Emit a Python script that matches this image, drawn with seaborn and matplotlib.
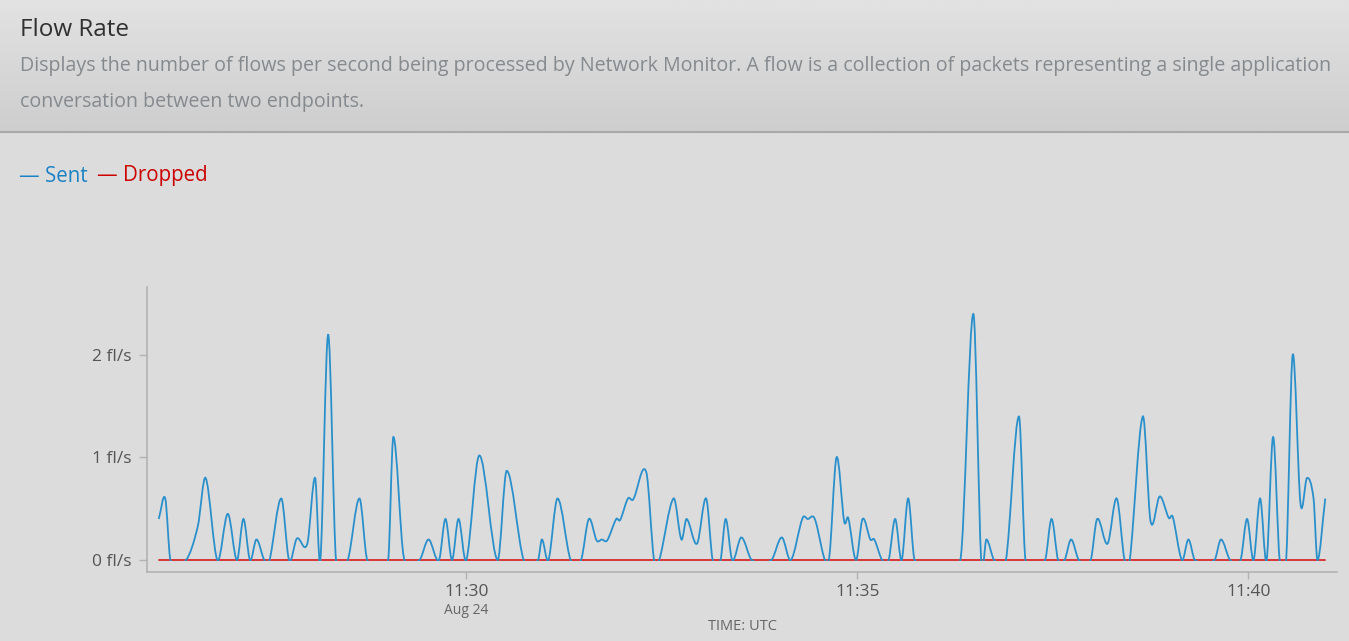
import numpy as np
import pandas as pd
import matplotlib
matplotlib.use("Agg")
import matplotlib.pyplot as plt
import matplotlib.dates as mdates
from matplotlib.path import Path
from matplotlib.patches import PathPatch, Rectangle
from matplotlib.lines import Line2D
from matplotlib.colors import LinearSegmentedColormap
import seaborn as sns

DAY = "2020-08-24 "

# sample times of the "Sent" series (UTC) and flows per second
sent_times = [
    "11:26:04", "11:26:09", "11:26:13", "11:26:25", "11:26:34", "11:26:40", "11:26:49", "11:26:57",
    "11:27:04", "11:27:09", "11:27:14", "11:27:19", "11:27:25", "11:27:29", "11:27:38", "11:27:44",
    "11:27:50", "11:27:58", "11:28:04", "11:28:08", "11:28:14", "11:28:20", "11:28:29", "11:28:38",
    "11:28:44", "11:29:00", "11:29:04", "11:29:12", "11:29:24", "11:29:31", "11:29:39", "11:29:44",
    "11:29:49", "11:29:54", "11:30:00", "11:30:10", "11:30:24", "11:30:31", "11:30:44", "11:30:55",
    "11:30:58", "11:31:03", "11:31:10", "11:31:20", "11:31:28", "11:31:34", "11:31:40", "11:31:44",
    "11:31:48", "11:31:55", "11:31:58", "11:32:04", "11:32:08", "11:32:18", "11:32:24", "11:32:28",
    "11:32:39", "11:32:45", "11:32:49", "11:32:57", "11:33:04", "11:33:09", "11:33:15", "11:33:19",
    "11:33:24", "11:33:31", "11:33:39", "11:33:54", "11:34:02", "11:34:09", "11:34:18", "11:34:22",
    "11:34:27", "11:34:38", "11:34:44", "11:34:50", "11:34:53", "11:34:59", "11:35:04", "11:35:10",
    "11:35:13", "11:35:19", "11:35:24", "11:35:29", "11:35:34", "11:35:39", "11:35:44", "11:36:19",
    "11:36:29", "11:36:35", "11:36:39", "11:36:45", "11:36:54", "11:37:04", "11:37:09", "11:37:24",
    "11:37:29", "11:37:34", "11:37:39", "11:37:44", "11:37:50", "11:37:59", "11:38:04", "11:38:12",
    "11:38:19", "11:38:25", "11:38:29", "11:38:39", "11:38:45", "11:38:52", "11:38:59", "11:39:02",
    "11:39:09", "11:39:14", "11:39:19", "11:39:34", "11:39:39", "11:39:46", "11:39:54", "11:39:59",
    "11:40:04", "11:40:09", "11:40:14", "11:40:19", "11:40:24", "11:40:29", "11:40:34", "11:40:40",
    "11:40:45", "11:40:50", "11:40:53", "11:40:59",
]
sent_values = [
    0.40, 0.60, 0.0, 0.0, 0.33, 0.80, 0.0, 0.45,
    0.0, 0.40, 0.0, 0.20, 0.0, 0.0, 0.60, 0.0,
    0.21, 0.16, 0.80, 0.0, 2.20, 0.0, 0.0, 0.60,
    0.0, 0.0, 1.20, 0.03, 0.0, 0.20, 0.0, 0.40,
    0.0, 0.40, 0.0, 1.02, 0.0, 0.87, 0.0, 0.0,
    0.20, 0.0, 0.60, 0.0, 0.0, 0.40, 0.19, 0.20,
    0.19, 0.40, 0.39, 0.60, 0.59, 0.86, 0.0, 0.0,
    0.60, 0.20, 0.40, 0.16, 0.60, 0.0, 0.0, 0.40,
    0.0, 0.22, 0.0, 0.0, 0.22, 0.0, 0.41, 0.40,
    0.41, 0.0, 1.00, 0.37, 0.41, 0.0, 0.40, 0.20,
    0.20, 0.0, 0.0, 0.40, 0.0, 0.60, 0.0, 0.0,
    2.40, 0.0, 0.20, 0.0, 0.0, 1.40, 0.0, 0.0,
    0.40, 0.0, 0.0, 0.20, 0.0, 0.0, 0.40, 0.16,
    0.60, 0.0, 0.0, 1.40, 0.375, 0.62, 0.41, 0.42,
    0.0, 0.20, 0.0, 0.0, 0.20, 0.0, 0.0, 0.40,
    0.0, 0.60, 0.0, 1.20, 0.0, 0.0, 2.00, 0.55,
    0.80, 0.60, 0.0, 0.60,
]
dropped_times = ["11:26:04", "11:40:59"]
dropped_values = [0.0, 0.0]

xtick_times = ["11:30", "11:35", "11:40"]
xtick_labels = ["11:30", "11:35", "11:40"]
ytick_values = [0, 1, 2]
ytick_labels = ["0 fl/s", "1 fl/s", "2 fl/s"]

BLUE = "#2a90cc"
RED = "#d8282a"
W, H = 1349, 641


def smooth_path(x, y):
    # cardinal spline through the samples, drawn as cubic bezier segments
    x = np.asarray(x, float)
    y = np.asarray(y, float)
    m = np.zeros(len(x))
    m[1:-1] = (y[2:] - y[:-2]) / (x[2:] - x[:-2])
    m[0] = (y[1] - y[0]) / (x[1] - x[0])
    m[-1] = (y[-1] - y[-2]) / (x[-1] - x[-2])
    verts = [(x[0], y[0])]
    codes = [Path.MOVETO]
    for i in range(len(x) - 1):
        dx = x[i + 1] - x[i]
        verts += [(x[i] + dx / 3, y[i] + m[i] * dx / 3),
                  (x[i + 1] - dx / 3, y[i + 1] - m[i + 1] * dx / 3),
                  (x[i + 1], y[i + 1])]
        codes += [Path.CURVE4] * 3
    return Path(verts, codes)


if __name__ == "__main__":
    sns.set_theme(style="white")
    plt.rcParams["font.family"] = ["Open Sans", "DejaVu Sans"]

    sent_df = pd.DataFrame({"time": pd.to_datetime([DAY + t for t in sent_times]), "flows": sent_values})
    drop_df = pd.DataFrame({"time": pd.to_datetime([DAY + t for t in dropped_times]), "flows": dropped_values})

    fig = plt.figure(figsize=(W / 100, H / 100), dpi=100)
    fig.patch.set_facecolor("#dcdcdc")

    # header band
    hdr = fig.add_axes([0, 1 - 131 / H, 1, 131 / H])
    grad = np.linspace(0, 1, 100).reshape(-1, 1)
    hdr.imshow(grad, aspect="auto", extent=[0, 1, 0, 1],
               cmap=LinearSegmentedColormap.from_list("hdr", ["#e2e2e2", "#cecece"]))
    hdr.axis("off")
    fig.add_artist(Line2D([0, 1], [1 - 132 / H] * 2, color="#a8a8a8", lw=1.5))

    fig.text(20 / W, 1 - 30 / H, "Flow Rate", va="center", ha="left", fontsize=17.5, color="#303030")
    fig.text(20 / W, 1 - 66 / H,
             "Displays the number of flows per second being processed by Network Monitor. "
             "A flow is a collection of packets representing a single application",
             va="center", ha="left", fontsize=14.1, color="#858a8f")
    fig.text(20 / W, 1 - 102 / H, "conversation between two endpoints.",
             va="center", ha="left", fontsize=14.1, color="#858a8f")

    fig.text(19 / W, 1 - 176 / H, "\u2014 Sent", va="center", ha="left", fontsize=14.8, color="#1a82c4")
    fig.text(97 / W, 1 - 176 / H, "\u2014 Dropped", va="center", ha="left", fontsize=14.8, color="#cc0000")

    ax = fig.add_axes([147 / W, 1 - 572 / H, (1337 - 147) / W, (572 - 287) / H])
    ax.set_facecolor("#dcdcdc")

    sns.lineplot(data=drop_df, x="time", y="flows", color=RED, lw=1.3, ax=ax, legend=False)

    xs = mdates.date2num(sent_df["time"])
    patch = PathPatch(smooth_path(xs, sent_df["flows"]), fill=False, edgecolor=BLUE, lw=1.3, zorder=3)
    ax.add_patch(patch)
    clip = Rectangle((xs[0] - 1, -0.006), 2, 5, transform=ax.transData)
    patch.set_clip_path(clip)

    x0 = mdates.date2num(pd.Timestamp(DAY + "11:25:55"))
    x1 = mdates.date2num(pd.Timestamp(DAY + "11:41:08"))
    ax.set_xlim(x0, x1)
    ax.set_ylim(-0.117, 2.663)

    ax.set_xticks(mdates.date2num(pd.to_datetime([DAY + t for t in xtick_times])))
    ax.set_xticklabels(xtick_labels)
    ax.set_yticks(ytick_values)
    ax.set_yticklabels(ytick_labels)
    ax.set_xlabel("")
    ax.set_ylabel("")

    for s in ["top", "right"]:
        ax.spines[s].set_visible(False)
    for s in ["left", "bottom"]:
        ax.spines[s].set_color("#b2b2b2")
        ax.spines[s].set_linewidth(1.2)
    ax.tick_params(axis="y", length=6, width=1, color="#b2b2b2", pad=5, labelsize=12.5, labelcolor="#555555", left=True)
    ax.tick_params(axis="x", length=5, width=1, color="#b2b2b2", pad=4, labelsize=12.5, labelcolor="#555555", bottom=True)

    fig.text(466 / W, 1 - 611 / H, "Aug 24", ha="center", va="center", fontsize=10, color="#666666")
    fig.text(742 / W, 1 - 627 / H, "TIME: UTC", ha="center", va="center", fontsize=10.5, color="#666666")

    plt.savefig("out.png", dpi=100, facecolor=fig.get_facecolor())
